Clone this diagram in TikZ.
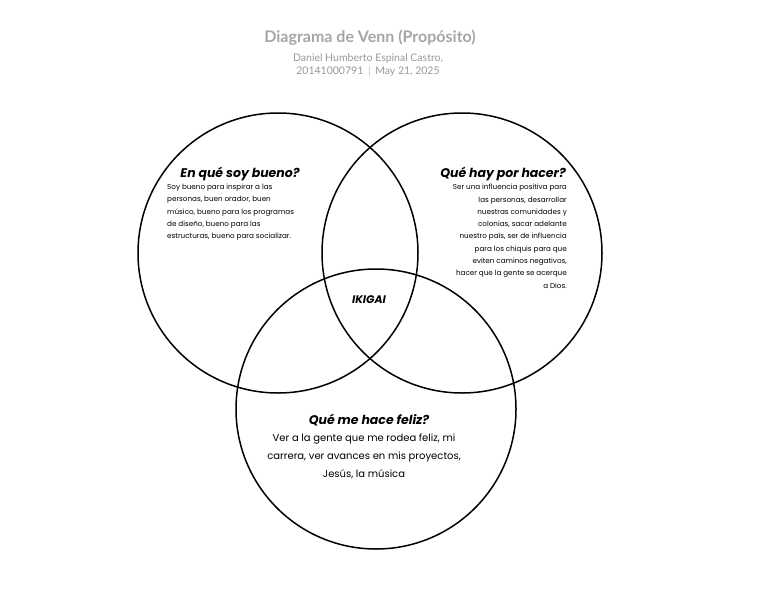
\documentclass[tikz,border=0pt]{standalone}
\usepackage{fontspec}
\setmainfont{Poppins}
\newfontfamily\titlefont{Lato}
\begin{document}
\begin{tikzpicture}[x=1pt,y=-1pt]
\tikzset{venn/.style={draw=black,line width=1.5pt},
head/.style={font=\bfseries\itshape\fontsize{12.5}{14}\selectfont},
body/.style={font=\fontsize{7.2}{12.3}\selectfont,inner sep=0pt}}
\useasboundingbox[fill=white] (0,0) rectangle (768,594);
\node[font=\titlefont\bfseries\fontsize{16}{18}\selectfont,text=black!35] (title) at (370,38) {Diagrama de Venn (Propósito)};
\node[font=\titlefont\fontsize{10.5}{13}\selectfont,text=black!40,align=center] (sub) at (368,66) {Daniel Humberto Espinal Castro,\\20141000791 \,$|$\, May 21, 2025};
\node[venn,circle,minimum size=280pt] (c1) at (278,253) {};
\node[venn,circle,minimum size=280pt] (c2) at (462,253) {};
\node[venn,circle,minimum size=280pt] (c3) at (376,409) {};
\node[head] (h1) at (240,174) {En qué soy bueno?};
\node[body,align=left,anchor=north west] (t1) at (167,184) {Soy bueno para inspirar a las\\personas, buen orador, buen\\músico, bueno para los programas\\de diseño, bueno para las\\estructuras, bueno para socializar.};
\node[head] (h2) at (503,174) {Qué hay por hacer?};
\node[body,align=right,anchor=north east] (t2) at (567,184) {Ser una influencia positiva para\\las personas, desarrollar\\nuestras comunidades y\\colonias, sacar adelante\\nuestro país, ser de influencia\\para los chiquis para que\\eviten caminos negativos,\\hacer que la gente se acerque\\a Dios.};
\node[head] (h3) at (369,420) {Qué me hace feliz?};
\node[font=\fontsize{10}{18}\selectfont,align=center,anchor=north] (t3) at (364,430) {Ver a la gente que me rodea feliz, mi\\carrera, ver avances en mis proyectos,\\Jesús, la música};
\node[font=\bfseries\itshape\fontsize{11}{13}\selectfont] (ik) at (369,300) {IKIGAI};
\end{tikzpicture}
\end{document}
